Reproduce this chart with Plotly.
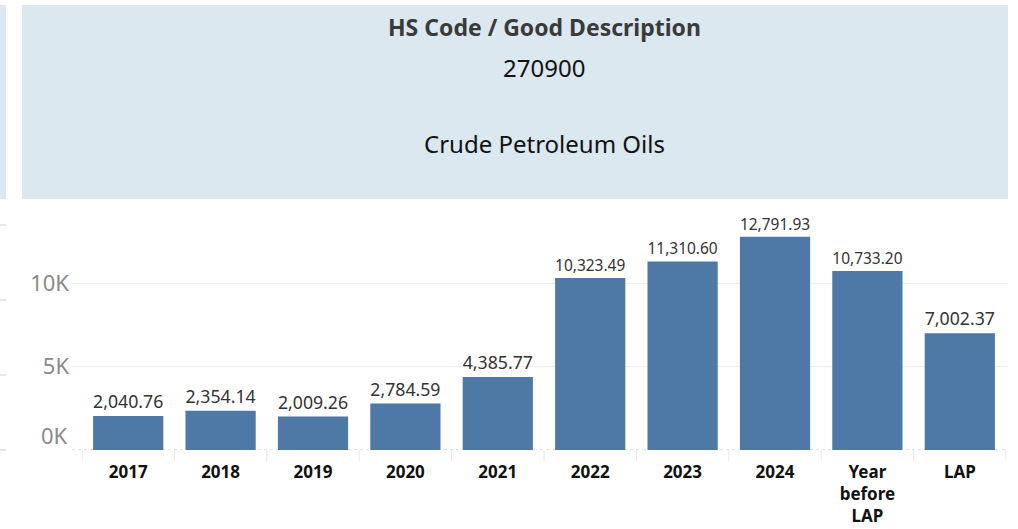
import plotly.graph_objects as go

categories = ["2017", "2018", "2019", "2020", "2021", "2022", "2023", "2024", "Year<br>before<br>LAP", "LAP"]
values = [2040.76, 2354.14, 2009.26, 2784.59, 4385.77, 10323.49, 11310.60, 12791.93, 10733.20, 7002.37]
y_ticks = [0, 5000, 10000]
y_tick_labels = ["0K", "5K", "10K"]
header_lines = ["HS Code / Good Description", "270900", "Crude Petroleum Oils"]

W, H = 1018, 529
L, R, T, B = 82, 12, 200, 79
PW, PH = W - L - R, H - T - B

def px_x(px):
    return (px - L) / PW

def px_y(py):
    return (H - B - py) / PH

FONT = "Noto Sans"
HEADER_BG = "#dce8ef"
YTICK_FONT = dict(family=FONT, size=22, color="#8a8a8a")

fig = go.Figure()
fig.add_trace(go.Bar(
    x=list(range(len(categories))),
    y=values,
    marker=dict(color="#4e79a7", line=dict(width=0)),
    width=0.76,
    texttemplate="%{y:,.2f}",
    textposition="outside",
    textfont=dict(family=FONT, size=18, color="#333333"),
    cliponaxis=False,
    hoverinfo="skip",
))

shapes = []
# header panels
shapes.append(dict(type="rect", xref="paper", yref="paper",
                   x0=px_x(22), x1=px_x(1008), y0=px_y(199), y1=px_y(5),
                   fillcolor=HEADER_BG, line=dict(width=0), layer="below"))
shapes.append(dict(type="rect", xref="paper", yref="paper",
                   x0=px_x(0), x1=px_x(6), y0=px_y(199), y1=px_y(5),
                   fillcolor=HEADER_BG, line=dict(width=0), layer="below"))
# gridlines
for v in y_ticks[1:]:
    shapes.append(dict(type="line", xref="paper", yref="y",
                       x0=px_x(72), x1=px_x(1008), y0=v, y1=v,
                       line=dict(color="#ebebeb", width=1), layer="below"))
# dashed baseline
shapes.append(dict(type="line", xref="paper", yref="y",
                   x0=px_x(72), x1=px_x(1008), y0=0, y1=0,
                   line=dict(color="#c8c8c8", width=1, dash="3px,3px"), layer="below"))
# category dividers
for i in range(len(categories) + 1):
    shapes.append(dict(type="line", xref="x", yref="paper",
                       x0=i - 0.5, x1=i - 0.5, y0=0, y1=px_y(461),
                       line=dict(color="#e6e6e6", width=1)))
# fragments from adjacent pane at left edge
for py in [225, 300, 375, 450]:
    shapes.append(dict(type="line", xref="paper", yref="paper",
                       x0=px_x(0), x1=px_x(6), y0=px_y(py), y1=px_y(py),
                       line=dict(color="#e8e8e8", width=2)))

annotations = [
    dict(text="<b>" + header_lines[0] + "</b>", x=0.5, y=px_y(27), xref="paper", yref="paper",
         showarrow=False, xanchor="center", yanchor="middle",
         font=dict(family=FONT, size=23, color="#3a3a3a")),
    dict(text=header_lines[1], x=0.5, y=px_y(67), xref="paper", yref="paper",
         showarrow=False, xanchor="center", yanchor="middle",
         font=dict(family=FONT, size=24, color="#111111")),
    dict(text=header_lines[2], x=0.5, y=px_y(143), xref="paper", yref="paper",
         showarrow=False, xanchor="center", yanchor="middle",
         font=dict(family=FONT, size=24, color="#111111")),
    # bottom tick label sits above the baseline, as in the original
    dict(text=y_tick_labels[0], x=px_x(70), y=y_ticks[0], xref="paper", yref="y",
         showarrow=False, xanchor="right", yanchor="middle", yshift=15,
         font=YTICK_FONT),
]

fig.update_layout(
    width=W, height=H,
    margin=dict(l=L, r=R, t=T, b=B, pad=0, autoexpand=False),
    paper_bgcolor="white", plot_bgcolor="white",
    showlegend=False,
    shapes=shapes,
    annotations=annotations,
    bargap=0.24,
    xaxis=dict(
        tickmode="array",
        tickvals=list(range(len(categories))),
        ticktext=["<b>" + c + "</b>" for c in categories],
        range=[-0.5, len(categories) - 0.5],
        showgrid=False, zeroline=False, showline=False, ticks="",
        tickfont=dict(family=FONT, size=17, color="#111111"),
        ticklabelstandoff=10,
        automargin=False,
        fixedrange=True,
    ),
    yaxis=dict(
        tickmode="array",
        tickvals=y_ticks[1:],
        ticktext=y_tick_labels[1:],
        range=[0, 15000],
        showgrid=False, zeroline=False, showline=False, ticks="",
        tickfont=YTICK_FONT,
        ticklabelstandoff=12,
        automargin=False,
        fixedrange=True,
    ),
)

fig.write_html("out.html", config={"displayModeBar": False},
               post_script="document.body.style.margin='0';")
